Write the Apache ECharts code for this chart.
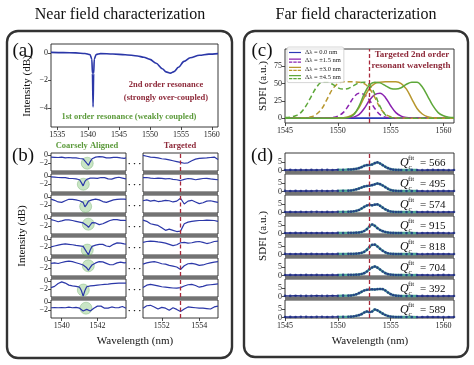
<!DOCTYPE html>
<html><head><meta charset="utf-8">
<script src="https://cdn.jsdelivr.net/npm/echarts@6/dist/echarts.min.js"></script>
<style>html,body{margin:0;padding:0;background:#fff}#c{width:474px;height:365px}</style>
</head><body><div id="c"></div>
<script>
// ---------- DATA ----------
// (a) transmission spectrum
const A_X = [1534,1536,1538,1539.5,1540.3,1540.6,1540.7,1540.8,1540.9,1541.0,1541.3,1542,1544,1546,1548,1549,1550,1551,1552,1552.6,1553.3,1553.9,1554.6,1555.5,1556.5,1558,1559.5,1561];
const A_Y = [0.04,0.02,0.0,-0.04,-0.12,-0.45,-1.5,-3.93,-1.5,-0.45,-0.12,-0.05,-0.08,-0.13,-0.22,-0.32,-0.47,-0.75,-1.15,-1.38,-1.47,-1.36,-1.05,-0.62,-0.35,-0.17,-0.09,-0.05];
const A_XTICKS = [1535,1540,1545,1550,1555,1560];
const A_YTICKS = [0,-2,-4];

// (b) measured spectra, left window (1st order) and right window (target)
const B_LX = [1539.4,1539.5,1539.6,1539.7,1539.8,1539.9,1540.0,1540.1,1540.2,1540.3,1540.4,1540.5,1540.6,1540.7,1540.8,1540.9,1541.0,1541.1,1541.2,1541.3,1541.4,1541.5,1541.6,1541.7,1541.8,1541.9,1542.0,1542.1,1542.2,1542.3,1542.4,1542.5,1542.6,1542.7,1542.8,1542.9,1543.0,1543.1,1543.2,1543.3,1543.4,1543.5,1543.6];
const B_LEFT_1 = [-0.5,-0.45,-0.55,-0.5,-0.6,-0.55,-0.5,-0.6,-0.7,-0.65,-0.6,-0.55,-0.7,-0.75,-0.7,-0.8,-0.85,-0.9,-0.95,-1.2,-2.0,-2.5,-1.6,-0.9,-0.7,-0.5,-0.45,-0.4,-0.35,-0.45,-0.6,-0.7,-0.75,-0.7,-0.6,-0.55,-0.5,-0.55,-0.6,-0.7,-0.65,-0.8,-0.7];
const B_LEFT_2 = [-0.2,-0.15,-0.25,-0.3,-0.35,-0.3,-0.4,-0.45,-0.4,-0.5,-0.55,-0.5,-0.6,-0.65,-0.7,-0.75,-0.9,-1.6,-2.4,-1.3,-0.8,-0.6,-0.5,-0.45,-0.5,-0.6,-0.55,-0.45,-0.35,-0.3,-0.4,-0.55,-0.7,-0.8,-0.75,-0.6,-0.45,-0.35,-0.3,-0.4,-0.5,-0.65,-0.7];
const B_LEFT_3 = [-0.5,-0.6,-0.8,-1.0,-1.2,-1.35,-1.3,-1.1,-0.9,-0.7,-0.55,-0.5,-0.55,-0.6,-0.7,-0.8,-0.9,-1.0,-1.3,-2.4,-1.8,-1.0,-0.8,-0.7,-0.6,-0.5,-0.55,-0.7,-0.9,-1.1,-1.25,-1.3,-1.2,-1.0,-0.8,-0.7,-0.6,-0.55,-0.6,-0.5,-0.45,-0.5,-0.55];
const B_LEFT_4 = [-0.4,-0.5,-0.6,-0.8,-0.9,-0.85,-0.7,-0.55,-0.45,-0.4,-0.45,-0.5,-0.6,-0.7,-0.8,-0.9,-1.0,-1.1,-1.2,-1.4,-1.8,-2.3,-1.7,-1.1,-1.0,-1.2,-1.45,-1.6,-1.55,-1.4,-1.2,-1.0,-0.8,-0.6,-0.5,-0.4,-0.35,-0.4,-0.5,-0.55,-0.6,-0.55,-0.6];
const B_LEFT_5 = [-1.9,-1.8,-1.7,-1.6,-1.5,-1.4,-1.3,-1.25,-1.2,-1.25,-1.3,-1.35,-1.4,-1.5,-1.55,-1.6,-1.65,-1.7,-1.8,-2.2,-3.2,-3.85,-2.6,-1.8,-1.6,-1.5,-1.4,-1.3,-1.25,-1.3,-1.5,-1.7,-1.9,-1.85,-1.6,-1.3,-1.1,-0.95,-0.9,-1.0,-1.1,-1.2,-1.25];
const B_LEFT_6 = [-0.8,-0.75,-0.7,-0.8,-0.85,-0.75,-0.6,-0.5,-0.4,-0.3,-0.25,-0.3,-0.4,-0.5,-0.65,-0.8,-0.9,-1.0,-1.2,-1.4,-1.9,-2.5,-1.8,-1.2,-0.9,-0.7,-0.5,-0.4,-0.35,-0.45,-0.6,-0.8,-1.0,-1.15,-1.2,-1.1,-0.9,-0.7,-0.55,-0.5,-0.6,-0.7,-0.65];
const B_LEFT_7 = [-1.6,-1.5,-1.3,-1.0,-0.6,-0.3,-0.2,-0.3,-0.5,-0.8,-1.0,-1.1,-1.2,-1.25,-1.3,-1.35,-1.5,-2.3,-3.7,-2.3,-1.4,-1.3,-1.2,-1.15,-1.1,-1.05,-1.0,-0.95,-0.9,-0.85,-0.8,-0.8,-0.75,-0.7,-0.65,-0.6,-0.55,-0.5,-0.5,-0.45,-0.5,-0.55,-0.5];
const B_LEFT_8 = [-1.4,-1.3,-1.35,-1.5,-1.4,-1.3,-1.35,-1.45,-1.4,-1.3,-1.25,-1.3,-1.4,-1.35,-1.3,-1.35,-1.5,-1.8,-2.2,-2.1,-1.8,-2.0,-2.2,-1.9,-1.5,-1.2,-1.0,-0.9,-1.0,-1.2,-1.5,-1.6,-1.5,-1.3,-1.2,-1.25,-1.4,-1.5,-1.35,-1.2,-1.1,-1.3,-1.5];
const B_RX = [1551.0,1551.2,1551.4,1551.6,1551.8,1552.0,1552.2,1552.4,1552.6,1552.8,1553.0,1553.2,1553.4,1553.6,1553.8,1554.0,1554.2,1554.4,1554.6,1554.8,1555.0];
const B_RIGHT_1 = [-0.1,-0.3,-0.5,-0.55,-0.7,-0.9,-1.0,-1.2,-1.4,-1.6,-1.8,-2.0,-1.9,-1.4,-1.0,-0.8,-0.75,-0.7,-0.6,-0.5,-1.1];
const B_RIGHT_2 = [-0.4,-0.35,-0.5,-0.6,-0.5,-0.55,-0.7,-0.6,-0.8,-0.9,-1.1,-0.8,-0.6,-0.7,-0.9,-0.75,-0.6,-0.55,-0.7,-0.8,-0.9];
const B_RIGHT_3 = [-0.9,-0.7,-1.0,-0.8,-1.1,-1.0,-0.8,-0.9,-1.2,-1.0,-0.3,-1.7,-1.0,-0.8,-1.2,-1.6,-1.4,-1.0,-0.9,-1.1,-1.3];
const B_RIGHT_4 = [-0.5,-0.8,-1.4,-1.6,-1.8,-2.4,-3.0,-2.7,-3.0,-3.3,-3.2,-1.4,-1.0,-0.8,-0.7,-0.6,-0.6,-0.5,-0.55,-0.6,-0.8];
const B_RIGHT_5 = [-0.8,-0.6,-0.5,-0.55,-0.7,-0.8,-1.0,-1.3,-1.6,-1.4,-0.9,-0.8,-1.0,-0.9,-0.7,-0.6,-0.8,-1.1,-0.9,-0.6,-0.5];
const B_RIGHT_6 = [-1.0,-0.7,-0.5,-0.4,-0.6,-0.9,-1.0,-1.3,-1.5,-1.7,-2.3,-1.4,-0.9,-0.8,-1.0,-1.3,-1.2,-0.9,-0.7,-0.5,-0.4];
const B_RIGHT_7 = [-1.6,-1.0,-0.8,-1.0,-1.2,-1.4,-1.5,-1.6,-1.7,-1.75,-1.6,-1.2,-0.9,-0.8,-1.1,-1.5,-1.3,-1.0,-0.9,-0.8,-0.7];
const B_RIGHT_8 = [-1.5,-0.9,-0.8,-1.2,-1.7,-1.3,-1.5,-2.0,-1.4,-1.8,-2.3,-1.7,-1.2,-1.3,-1.4,-1.5,-1.5,-1.6,-1.7,-1.2,-1.0];
const B_CIRC_X = [1541.43,1541.21,1541.34,1541.49,1541.43,1541.49,1541.21,1541.36];
const B_CIRC_Y = [-2.0,-2.0,-2.3,-1.5,-2.7,-1.4,-2.2,-1.5];
const B_LXTICKS = [1540,1542];
const B_RXTICKS = [1552,1554];
const B_YTICKS = [0,-2];
const TARGET_WL = 1553;

// (c) simulated SDFI spectra
const C_X = [1545,1545.5,1546,1546.5,1547,1547.5,1548,1548.5,1549,1549.5,1550,1550.5,1551,1551.5,1552,1552.5,1553,1553.5,1554,1554.5,1555,1555.5,1556,1556.5,1557,1557.5,1558,1558.5,1559,1559.5,1560,1560.5,1561];
const C_D00   = [0,0,0,0,0,0,0,0,0,0,0,0,0,0,0,0,0,0,0,0,0,0,0,0,0,0,0,0,0,0,0,0,0];
const C_P15   = [0,0,0,0,0,0,0,0,0,0,0,0.1,0.5,1.5,5,14,26,34,36,30,18,8,3,1,0.3,0.1,0,0,0,0,0,0,0];
const C_M15   = [0,0,0,0,0,0,0,0.1,0.3,1,3,8,18,30,36,34,26,14,5,1.5,0.5,0.1,0,0,0,0,0,0,0,0,0,0,0];
const C_P30   = [0,0,0,0,0,0,0,0,0,0,0.1,0.5,2,6,15,30,43,50,52,52.5,52.5,52.5,50,42,28,14,6,2,0.5,0.1,0,0,0];
const C_M30   = [0,0,0,0.1,0.5,2,6,14,28,42,50,52.5,52.5,52.5,52,50,43,30,15,6,2,0.5,0.1,0,0,0,0,0,0,0,0,0,0];
const C_P45   = [0,0,0,0,0,0,0,0,0,0,0.1,0.3,1,5,17,35,48,52,51,47,43,42,44,49,52,52,45,32,18,8,3.5,1.5,0.8];
const C_M45   = [0.8,1.5,3.5,8,18,32,45,52,52,49,44,42,43,47,51,52,48,35,17,5,1,0.3,0.1,0,0,0,0,0,0,0,0,0,0];
const C_NAMES = ['Δλ = 0.0 nm','Δλ = ±1.5 nm','Δλ = ±3.0 nm','Δλ = ±4.5 nm'];
const C_XTICKS = [1545,1550,1555,1560];
const C_YTICKS = [0,25,50,75];

// (d) measured SDFI (dots) + fit
const D_X = [1545,1545.5,1546,1546.5,1547,1547.5,1548,1548.5,1549,1549.5,1550,1550.5,1551,1551.25,1551.5,1551.75,1552,1552.25,1552.5,1552.75,1553,1553.25,1553.5,1553.75,1554,1554.25,1554.5,1554.75,1555,1555.25,1555.5,1555.75,1556,1556.5,1557,1557.5,1558,1558.5,1559,1559.5,1560,1560.5,1561];
const D_BASE = [
 [0.3,0.4,0.3,0.35,0.3,0.4,0.3,0.35,0.4,0.3,0.45,0.4,0.6],
 [0.35,0.3,0.4,0.3,0.35,0.3,0.4,0.35,0.3,0.4,0.35,0.45,0.5],
 [0.3,0.35,0.3,0.4,0.3,0.35,0.4,0.3,0.35,0.3,0.4,0.35,0.45],
 [0.3,0.3,0.35,0.3,0.4,0.3,0.3,0.35,0.3,0.3,0.35,0.3,0.4],
 [0.35,0.3,0.3,0.4,0.3,0.35,0.3,0.3,0.4,0.3,0.35,0.3,0.4],
 [0.3,0.35,0.3,0.3,0.35,0.3,0.4,0.3,0.3,0.35,0.3,0.35,0.4],
 [0.4,0.35,0.45,0.4,0.35,0.4,0.45,0.4,0.35,0.45,0.4,0.5,0.55],
 [0.3,0.35,0.3,0.4,0.35,0.3,0.35,0.4,0.3,0.35,0.4,0.35,0.45]];
const D_PEAK = [
 [0.6,0.8,1.0,1.4,2.0,2.8,3.2,3.3,3.6,4.4,4.9,4.2,3.2,2.2,1.4,0.8,0.5,0.4,0.35,0.3],
 [0.6,0.9,1.3,1.8,2.4,3.0,3.3,3.5,3.8,4.3,4.8,4.4,3.6,2.6,1.6,0.9,0.5,0.4,0.3,0.3],
 [0.5,0.7,1.0,1.5,2.4,3.4,4.2,4.6,4.3,4.7,4.9,4.0,2.9,1.9,1.1,0.6,0.4,0.3,0.3,0.3],
 [0.4,0.4,0.5,0.6,0.9,1.5,2.6,4.2,5.4,4.6,3.2,2.1,1.4,0.9,0.6,0.4,0.35,0.3,0.3,0.3],
 [0.4,0.4,0.5,0.7,1.0,1.6,2.8,4.5,5.8,5.9,4.8,3.4,2.2,1.3,0.7,0.45,0.35,0.3,0.3,0.3],
 [0.4,0.4,0.5,0.6,0.9,1.4,2.4,3.8,4.8,5.4,4.7,3.6,2.4,1.4,0.8,0.5,0.4,0.3,0.3,0.3],
 [0.6,0.9,1.3,2.0,2.8,3.6,4.0,4.2,4.3,4.2,4.4,4.5,4.4,3.6,2.4,1.4,0.8,0.5,0.4,0.3],
 [0.5,0.7,1.0,1.4,2.0,3.0,3.6,3.2,3.6,4.8,4.3,3.3,2.3,1.5,0.9,0.5,0.4,0.3,0.3,0.3]];
const D_TAIL = [
 [0.3,0.35,0.3,0.25,0.3,0.35,0.3,0.3,0.25,0.3],
 [0.3,0.3,0.35,0.3,0.25,0.3,0.3,0.35,0.3,0.3],
 [0.3,0.25,0.3,0.3,0.35,0.3,0.25,0.3,0.3,0.3],
 [0.3,0.3,0.25,0.3,0.3,0.3,0.35,0.3,0.25,0.3],
 [0.3,0.3,0.3,0.25,0.3,0.35,0.3,0.3,0.3,0.25],
 [0.3,0.25,0.3,0.3,0.3,0.25,0.3,0.35,0.3,0.3],
 [0.35,0.3,0.3,0.35,0.3,0.3,0.25,0.3,0.3,0.3],
 [0.3,0.3,0.25,0.3,0.35,0.3,0.3,0.25,0.3,0.3]];
const D_Q = [566,495,574,915,818,704,392,589];
const D_YTICKS = [0,5];

// ---------- LAYOUT / STYLE ----------
const SERIF = "'Liberation Serif','Times New Roman',serif";
const ROW_TOP0 = 153, ROW_PITCH = 21, ROW_H = 18, NROW = 8;
const BL = {left:51, width:75}, BR = {left:143, width:75};
const C_G = {left:285, top:49, width:169, height:74};
const D_G = {left:285, width:169};
const A_G = {left:51, top:44, width:167, height:83};
const BLUE = '#2b37a8', RED = '#a8283a', DARKRED = '#8e2a3a', GREEN_T = '#5b9a3a';
const COLS = ['#2b3ab5','#8a22b0','#b8972e','#5ea83a'];
const fmt = v => (v < 0 ? '\u2212' + Math.abs(v) : String(v));

const grid = [], xAxis = [], yAxis = [], series = [];
function addGrid(left, top, width, height) {
  grid.push({left, top, width, height, show:true, borderColor:'#222', borderWidth:0.9, backgroundColor:'transparent'});
  return grid.length - 1;
}
function axisV(gi, min, max, ticks, show, isX, fs) {
  const ax = {type:'value', gridIndex:gi, min, max, splitLine:{show:false},
    axisLine:{show:false, onZero:false}, show:true};
  if (isX) ax.position = 'bottom'; else ax.position = 'left';
  if (show) {
    ax.axisTick = {show:true, length:3, customValues:ticks, lineStyle:{color:'#222', width:0.8}};
    ax.axisLabel = {show:true, customValues:ticks, formatter:fmt, fontFamily:SERIF, fontSize:fs||8, color:'#222', margin: isX ? 4 : 3};
  } else {
    ax.axisTick = {show:false};
    ax.axisLabel = {show:false};
  }
  return ax;
}
const pairs = (xs, ys) => xs.map((x, i) => [x, ys[i]]);
const redLine = {silent:true, symbol:'none', label:{show:false}, animation:false,
  lineStyle:{color:RED, type:[4,2.5], width:1.3}, data:[{xAxis:TARGET_WL}]};

// (a)
{
  const g = addGrid(A_G.left, A_G.top, A_G.width, A_G.height);
  xAxis.push(axisV(g, 1534, 1561, A_XTICKS, true, true));
  yAxis.push(axisV(g, -5.4, 0.65, A_YTICKS, true, false));
  series.push({type:'line', xAxisIndex:g, yAxisIndex:g, data:pairs(A_X, A_Y), showSymbol:false,
    smooth:0.3, smoothMonotone:'x', lineStyle:{color:BLUE, width:1.6}});
}
// (b)
const B_L = [B_LEFT_1,B_LEFT_2,B_LEFT_3,B_LEFT_4,B_LEFT_5,B_LEFT_6,B_LEFT_7,B_LEFT_8];
const B_R = [B_RIGHT_1,B_RIGHT_2,B_RIGHT_3,B_RIGHT_4,B_RIGHT_5,B_RIGHT_6,B_RIGHT_7,B_RIGHT_8];
for (let r = 0; r < NROW; r++) {
  const top = ROW_TOP0 + r * ROW_PITCH, last = r === NROW - 1;
  let g = addGrid(BL.left, top, BL.width, ROW_H);
  xAxis.push(axisV(g, 1539.4, 1543.6, B_LXTICKS, last, true));
  yAxis.push(axisV(g, -3.9, 0.5, B_YTICKS, true, false));
  series.push({type:'scatter', xAxisIndex:g, yAxisIndex:g, data:[[B_CIRC_X[r], B_CIRC_Y[r]]],
    symbolSize:12, itemStyle:{color:'rgba(120,190,110,0.5)', borderColor:'rgba(90,160,80,0.7)', borderWidth:0.6}, z:1});
  series.push({type:'line', xAxisIndex:g, yAxisIndex:g, data:pairs(B_LX, B_L[r]), showSymbol:false,
    lineStyle:{color:BLUE, width:1.2}, z:3});
  g = addGrid(BR.left, top, BR.width, ROW_H);
  xAxis.push(axisV(g, 1551, 1555, B_RXTICKS, last, true));
  yAxis.push(axisV(g, -3.9, 0.5, B_YTICKS, false, false));
  series.push({type:'line', xAxisIndex:g, yAxisIndex:g, data:pairs(B_RX, B_R[r]), showSymbol:false,
    lineStyle:{color:BLUE, width:1.2}, markLine:redLine});
}
// (c)
{
  const g = addGrid(C_G.left, C_G.top, C_G.width, C_G.height);
  xAxis.push(axisV(g, 1545, 1561, C_XTICKS, true, true));
  yAxis.push(axisV(g, -7, 100, C_YTICKS, true, false));
  const mk = (name, ys, col, dashed, extra) => Object.assign({type:'line', name, xAxisIndex:g, yAxisIndex:g,
    data:pairs(C_X, ys), showSymbol:false, smooth:0.35, color:col, itemStyle:{color:col},
    lineStyle:{color:col, width:1.5, type: dashed ? [5,3] : 'solid'}}, extra || {});
  series.push(mk(C_NAMES[0], C_D00, COLS[0], false, {markLine:redLine, lineStyle:{color:COLS[0], width:1.8}}));
  series.push(mk('Δλ = −1.5 nm', C_M15, COLS[1], true));
  series.push(mk(C_NAMES[1], C_P15, COLS[1], false));
  series.push(mk('Δλ = −3.0 nm', C_M30, COLS[2], true));
  series.push(mk(C_NAMES[2], C_P30, COLS[2], false));
  series.push(mk('Δλ = −4.5 nm', C_M45, COLS[3], true));
  series.push(mk(C_NAMES[3], C_P45, COLS[3], false));
}
// (d)
for (let r = 0; r < NROW; r++) {
  const top = ROW_TOP0 + r * ROW_PITCH, last = r === NROW - 1;
  const g = addGrid(D_G.left, top, D_G.width, ROW_H);
  xAxis.push(axisV(g, 1545, 1561, C_XTICKS, last, true));
  yAxis.push(axisV(g, -0.3, 10.5, D_YTICKS, true, false));
  const ys = D_BASE[r].concat(D_PEAK[r], D_TAIL[r]);
  const pts = pairs(D_X, ys);
  series.push({type:'line', xAxisIndex:g, yAxisIndex:g, data:pts, showSymbol:false,
    lineStyle:{color:'#1f2a8a', width:1.4}, markLine:redLine, z:2});
  series.push({type:'line', xAxisIndex:g, yAxisIndex:g, data:pts.slice(10, 36), showSymbol:false, smooth:0.4,
    lineStyle:{color:'#4fae96', width:2.4, opacity:0.9}, z:3});
  series.push({type:'scatter', xAxisIndex:g, yAxisIndex:g, data:pts, symbolSize:2.6,
    itemStyle:{color:'#1a2a80'}, z:4});
}

// ---------- GRAPHIC TEXT / FRAMES ----------
const G = [];
const txt = (x, y, text, font, fill, align, extra) => G.push(Object.assign({type:'text', x, y,
  style:{text, font, fill: fill || '#111', align: align || 'center', verticalAlign:'middle'}}, extra || {}));
G.push({type:'rect', shape:{x:7, y:31, width:225, height:327, r:11}, style:{fill:'none', stroke:'#333', lineWidth:2.4}});
G.push({type:'rect', shape:{x:244, y:31, width:224, height:326, r:11}, style:{fill:'none', stroke:'#333', lineWidth:2.4}});
for (let r = 0; r < NROW - 1; r++) {
  const y = ROW_TOP0 + r * ROW_PITCH + ROW_H;
  [[BL.left, BL.width],[BR.left, BR.width],[D_G.left, D_G.width]].forEach(([x, w]) =>
    G.push({type:'rect', shape:{x, y, width:w, height:ROW_PITCH - ROW_H}, style:{fill:'#737373'}}));
}
txt(120, 15, 'Near field characterization', `16px ${SERIF}`);
txt(356, 15, 'Far field characterization', `16px ${SERIF}`);
txt(23, 51, '(a)', `19px ${SERIF}`);
txt(23, 156, '(b)', `19px ${SERIF}`);
txt(262, 51, '(c)', `19px ${SERIF}`);
txt(262, 156, '(d)', `19px ${SERIF}`);
txt(27, 86, 'Intensity (dB)', `11px ${SERIF}`, '#111', 'center', {rotation:Math.PI/2});
txt(22, 236, 'Intensity (dB)', `11px ${SERIF}`, '#111', 'center', {rotation:Math.PI/2});
txt(263, 86, 'SDFI (a.u.)', `11px ${SERIF}`, '#111', 'center', {rotation:Math.PI/2});
txt(263, 236, 'SDFI (a.u.)', `11px ${SERIF}`, '#111', 'center', {rotation:Math.PI/2});
txt(135, 341, 'Wavelength (nm)', `11px ${SERIF}`);
txt(370, 341, 'Wavelength (nm)', `11px ${SERIF}`);
txt(166, 85, '2nd order resonance', `bold 8.5px ${SERIF}`, DARKRED);
txt(166, 98, '(strongly over-coupled)', `bold 8.5px ${SERIF}`, DARKRED);
txt(129, 117, '1st order resonance (weakly coupled)', `bold 8.5px ${SERIF}`, GREEN_T);
txt(87, 146, 'Coarsely Aligned', `bold 8.5px ${SERIF}`, GREEN_T);
txt(180, 146, 'Targeted', `bold 8.5px ${SERIF}`, DARKRED);
txt(412, 55, 'Targeted 2nd order', `bold 9px ${SERIF}`, DARKRED);
txt(411, 66, 'resonant wavelength', `bold 9px ${SERIF}`, DARKRED);
for (let r = 0; r < NROW; r++) {
  const top = ROW_TOP0 + r * ROW_PITCH;
  txt(134.5, top + 11, '· · ·', `bold 9px ${SERIF}`, '#222');
  const my = top + ROW_H / 2;
  txt(400, my + 1, 'Q', `italic 12px ${SERIF}`, '#111', 'left');
  txt(408, my - 3.5, 'fit', `7px ${SERIF}`, '#111', 'left');
  txt(408.5, my + 5, 'c', `italic 7px ${SERIF}`, '#111', 'left');
  txt(420, my + 1, '= ' + D_Q[r], `11px ${SERIF}`, '#111', 'left');
}

const PAIR = 'path://M0,0H20V2H0ZM0,5H5.5V7H0ZM7.2,5H12.8V7H7.2ZM14.5,5H20V7H14.5Z';
const option = {
  animation:false,
  grid, xAxis, yAxis, series, graphic:G,
  legend:{left:287, top:47, orient:'vertical', itemGap:1.2, itemWidth:12, itemHeight:6,
    padding:[2,3,2,2], backgroundColor:'rgba(255,255,255,0.85)', borderColor:'#ccc', borderWidth:0.8, borderRadius:2,
    textStyle:{fontFamily:SERIF, fontSize:6.5, color:'#222', padding:[0,0,0,-1]},
    selectedMode:false,
    data:[{name:C_NAMES[0], icon:'path://M0,3H20V5H0Z'}, {name:C_NAMES[1], icon:PAIR}, {name:C_NAMES[2], icon:PAIR}, {name:C_NAMES[3], icon:PAIR}]}
};
const chart = echarts.init(document.getElementById('c'), null, {renderer:'canvas', width:474, height:365});
chart.setOption(option);
</script></body></html>
